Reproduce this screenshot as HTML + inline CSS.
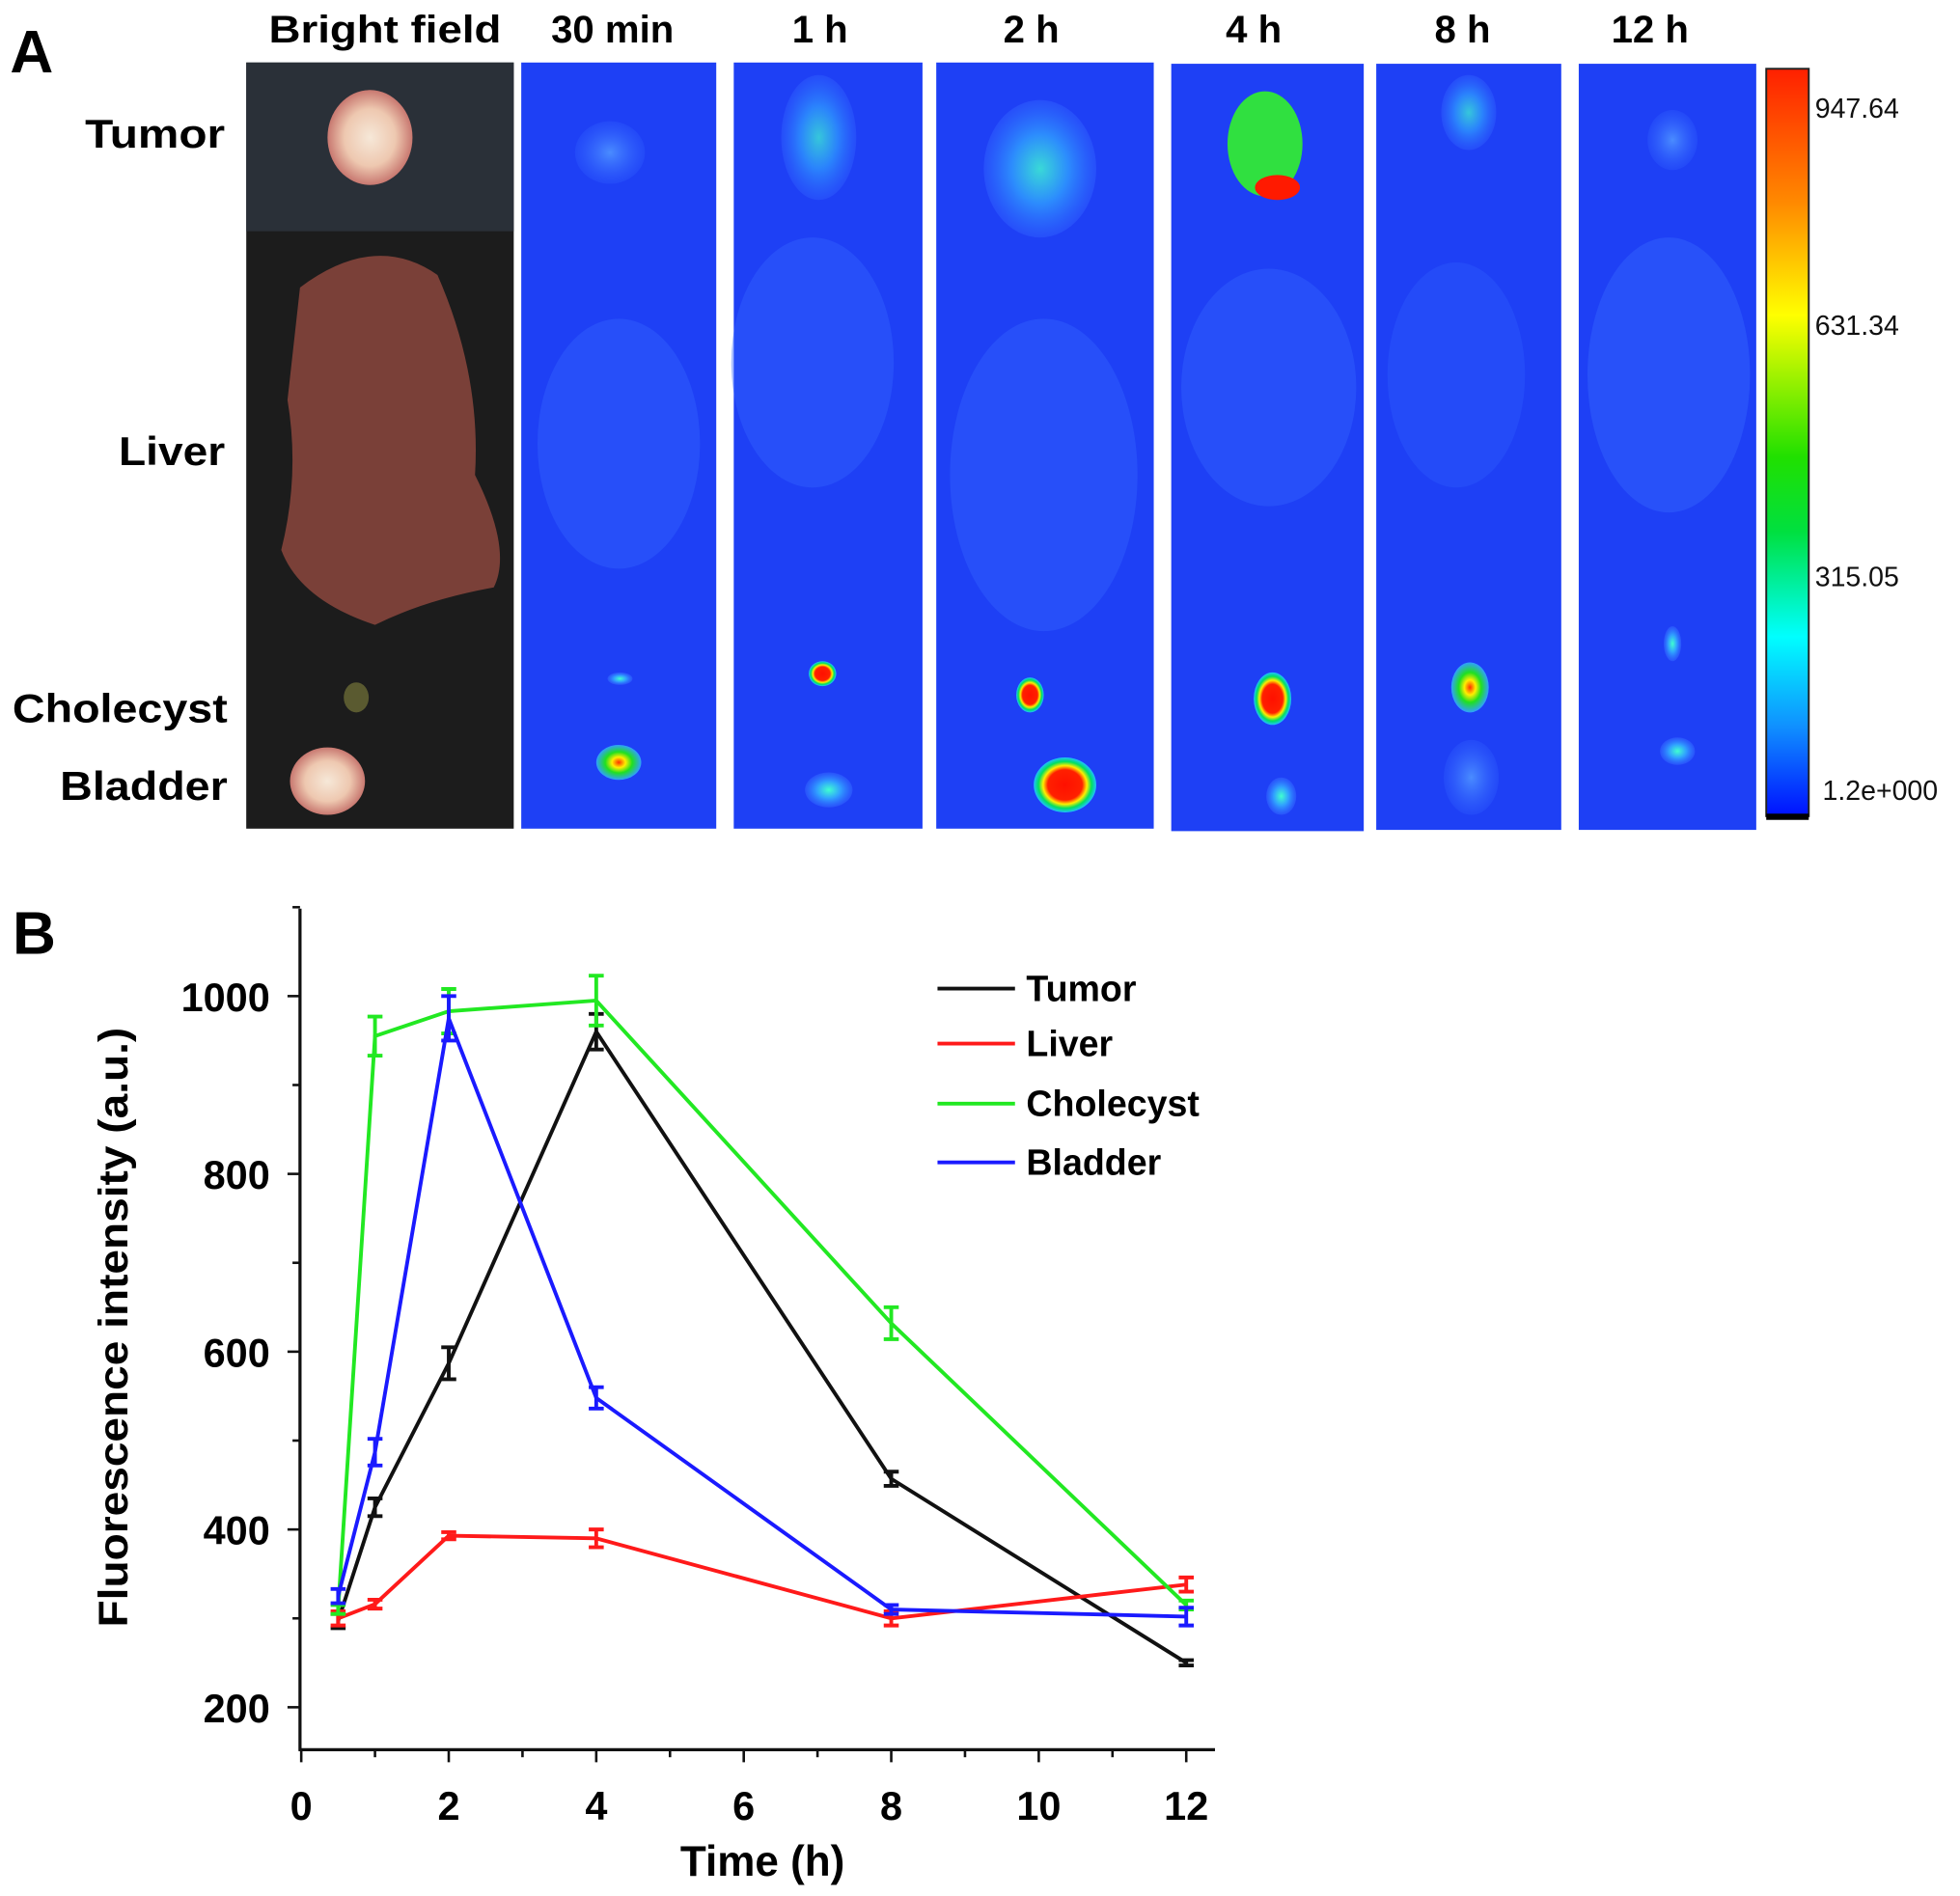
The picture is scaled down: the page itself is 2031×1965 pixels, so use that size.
<!DOCTYPE html>
<html><head><meta charset="utf-8"><style>
html,body{margin:0;padding:0;background:#fff;}
svg{display:block;font-family:"Liberation Sans",Arial,sans-serif;}
</style></head><body>
<svg id="fig" width="2031" height="1965" viewBox="0 0 1568 1517" xmlns="http://www.w3.org/2000/svg">
<defs>
<linearGradient id="cbar" x1="0" y1="0" x2="0" y2="1">
<stop offset="0" stop-color="#ff2000"/><stop offset="0.18" stop-color="#ff8a00"/><stop offset="0.33" stop-color="#ffff00"/><stop offset="0.52" stop-color="#20e000"/><stop offset="0.62" stop-color="#00e040"/><stop offset="0.76" stop-color="#00ffff"/><stop offset="0.88" stop-color="#1090ff"/><stop offset="1" stop-color="#0010ff"/>
</linearGradient>
<radialGradient id="hot"><stop offset="0" stop-color="#ff1000"/><stop offset="0.55" stop-color="#ff2000"/><stop offset="0.7" stop-color="#ffee00"/><stop offset="0.85" stop-color="#00e060"/><stop offset="1" stop-color="#20c0ff"/></radialGradient>
<radialGradient id="warm"><stop offset="0" stop-color="#ff3000"/><stop offset="0.3" stop-color="#ffee00"/><stop offset="0.6" stop-color="#20e020"/><stop offset="1" stop-color="#30a0ff"/></radialGradient>
<radialGradient id="cool"><stop offset="0" stop-color="#40ffd0"/><stop offset="0.5" stop-color="#30a0ff"/><stop offset="1" stop-color="#3060ff" stop-opacity="0.6"/></radialGradient>
<radialGradient id="faint"><stop offset="0" stop-color="#4a8cff"/><stop offset="1" stop-color="#3060ff" stop-opacity="0.3"/></radialGradient>
<radialGradient id="flesh"><stop offset="0" stop-color="#f6e8d8"/><stop offset="0.6" stop-color="#eec8b0"/><stop offset="1" stop-color="#c87870"/></radialGradient>
</defs>

<!-- Panel A -->
<text x="8" y="58" font-size="48" font-weight="bold">A</text>
<g font-size="31" font-weight="bold" text-anchor="middle">
<text x="308" y="34" textLength="186" lengthAdjust="spacingAndGlyphs">Bright field</text><text x="490" y="34">30 min</text><text x="656" y="34">1 h</text><text x="825" y="34">2 h</text><text x="1003" y="34">4 h</text><text x="1170" y="34">8 h</text><text x="1320" y="34">12 h</text>
</g>
<g font-size="32" font-weight="bold">
<text x="68" y="118" textLength="112" lengthAdjust="spacingAndGlyphs">Tumor</text><text x="95" y="372" textLength="85" lengthAdjust="spacingAndGlyphs">Liver</text><text x="10" y="578" textLength="172" lengthAdjust="spacingAndGlyphs">Cholecyst</text><text x="48" y="640" textLength="134" lengthAdjust="spacingAndGlyphs">Bladder</text>
</g>
<g>
<rect x="197" y="50" width="214" height="613" fill="#1c1c1c"/>
<rect x="197" y="50" width="214" height="135" fill="#2a3038"/>
<ellipse cx="296" cy="110" rx="34" ry="38" fill="url(#flesh)"/>
<path d="M240 230 Q300 185 350 220 Q385 300 380 380 Q410 440 395 470 Q340 480 300 500 Q240 480 225 440 Q240 380 230 320 Z" fill="#7a4038"/>
<ellipse cx="285" cy="558" rx="10" ry="12" fill="#5a5a30"/>
<ellipse cx="262" cy="625" rx="30" ry="27" fill="url(#flesh)"/>
</g>
<g>
<rect x="417" y="50" width="156" height="613" fill="#1e40f5"/>
<rect x="587" y="50" width="151" height="613" fill="#1e40f5"/>
<rect x="749" y="50" width="174" height="613" fill="#1e40f5"/>
<rect x="937" y="51" width="154" height="614" fill="#1e40f5"/>
<rect x="1101" y="51" width="148" height="613" fill="#1e40f5"/>
<rect x="1263" y="51" width="142" height="613" fill="#1e40f5"/>
<ellipse cx="488" cy="122" rx="28" ry="25" fill="url(#faint)"/>
<ellipse cx="655" cy="110" rx="30" ry="50" fill="url(#cool)" opacity="0.7"/>
<ellipse cx="832" cy="135" rx="45" ry="55" fill="url(#cool)" opacity="0.8"/>
<ellipse cx="1012" cy="115" rx="30" ry="42" fill="#30e040"/>
<ellipse cx="1022" cy="150" rx="18" ry="10" fill="#ff1a00"/>
<ellipse cx="1175" cy="90" rx="22" ry="30" fill="url(#cool)" opacity="0.7"/>
<ellipse cx="1338" cy="112" rx="20" ry="24" fill="url(#faint)"/>
<ellipse cx="495" cy="355" rx="65" ry="100" fill="#3566ff" opacity="0.4"/>
<ellipse cx="650" cy="290" rx="65" ry="100" fill="#3566ff" opacity="0.4"/>
<ellipse cx="835" cy="380" rx="75" ry="125" fill="#3566ff" opacity="0.4"/>
<ellipse cx="1015" cy="310" rx="70" ry="95" fill="#3566ff" opacity="0.4"/>
<ellipse cx="1165" cy="300" rx="55" ry="90" fill="#3060ff" opacity="0.35"/>
<ellipse cx="1335" cy="300" rx="65" ry="110" fill="#3566ff" opacity="0.45"/>
<ellipse cx="496" cy="543" rx="10" ry="5" fill="url(#cool)"/>
<ellipse cx="658" cy="539" rx="11" ry="10" fill="url(#hot)"/>
<ellipse cx="824" cy="556" rx="11" ry="14" fill="url(#hot)"/>
<ellipse cx="1018" cy="559" rx="15" ry="21" fill="url(#hot)"/>
<ellipse cx="1176" cy="550" rx="15" ry="20" fill="url(#warm)"/>
<ellipse cx="1338" cy="515" rx="7" ry="14" fill="url(#cool)"/>
<ellipse cx="495" cy="610" rx="18" ry="14" fill="url(#warm)"/>
<ellipse cx="663" cy="632" rx="19" ry="14" fill="url(#cool)"/>
<ellipse cx="852" cy="628" rx="25" ry="22" fill="url(#hot)"/>
<ellipse cx="1025" cy="637" rx="12" ry="15" fill="url(#cool)"/>
<ellipse cx="1177" cy="622" rx="22" ry="30" fill="url(#faint)"/>
<ellipse cx="1342" cy="601" rx="14" ry="11" fill="url(#cool)"/>
</g>
<g>
<rect x="1413" y="55" width="34" height="598" fill="url(#cbar)" stroke="#222" stroke-width="1.5"/>
<rect x="1413" y="651" width="34" height="5" fill="#000"/>
<g font-size="22" fill="#111">
<text x="1452" y="94">947.64</text><text x="1452" y="268">631.34</text><text x="1452" y="469">315.05</text><text x="1458" y="640">1.2e+000</text>
</g>
</g>

<!-- Panel B -->
<text x="10" y="763" font-size="48" font-weight="bold">B</text>
<g id="chart"></g>
</svg>
<script>
const times = [0.5, 1, 2, 4, 8, 12];
const seriesNames = ["Tumor", "Liver", "Cholecyst", "Bladder"];
const seriesColors = ["#111111", "#ff1a1a", "#22e822", "#1a1aff"];
const tumorValues = [297, 425, 587, 960, 457, 250];
const tumorErrors = [8, 10, 18, 20, 8, 3];
const liverValues = [300, 316, 393, 390, 300, 338];
const liverErrors = [8, 5, 4, 10, 8, 8];
const cholecystValues = [310, 955, 983, 995, 632, 315];
const cholecystErrors = [5, 22, 25, 28, 18, 5];
const bladderValues = [325, 487, 975, 548, 310, 302];
const bladderErrors = [8, 15, 25, 12, 5, 10];
const xTicks = [0, 2, 4, 6, 8, 10, 12];
const yTicks = [200, 400, 600, 800, 1000];

const NS = "http://www.w3.org/2000/svg";
const g = document.getElementById("chart");
const X0 = 241, XS = 59;
const xPos = t => X0 + XS * t;
const yPos = v => 1366 - (v - 200) * 0.71125;
function mk(tag, attrs, parent) {
  const e = document.createElementNS(NS, tag);
  for (const k in attrs) e.setAttribute(k, attrs[k]);
  (parent || g).appendChild(e);
  return e;
}
const yAxis = mk("line", {x1: 240, y1: 727, x2: 240, y2: 1401, stroke: "#111", "stroke-width": 2.5});


const xAxis = mk("line", {x1: 239, y1: 1400, x2: 972, y2: 1400, stroke: "#111", "stroke-width": 2.5});


for (let v = 200; v <= 1100; v += 100) {
  const major = v % 200 === 0;
  mk("line", {x1: 240 - (major ? 10 : 6), y1: yPos(v), x2: 240, y2: yPos(v), stroke: "#111", "stroke-width": 2});
}
yTicks.forEach(v => {
  const t = mk("text", {x: 216, y: yPos(v) + 12, "font-size": 32, "font-weight": "bold", "text-anchor": "end"});
  t.textContent = v;
  
  
});
for (let t = 0; t <= 12; t += 1) {
  const major = t % 2 === 0;
  mk("line", {x1: xPos(t), y1: 1400, x2: xPos(t), y2: 1400 + (major ? 10 : 6), stroke: "#111", "stroke-width": 2});
}
xTicks.forEach(t => {
  const e = mk("text", {x: xPos(t), y: 1456, "font-size": 32, "font-weight": "bold", "text-anchor": "middle"});
  e.textContent = t;
  
  
});
const xt = mk("text", {x: 610, y: 1501, "font-size": 34, "font-weight": "bold", "text-anchor": "middle"});
xt.textContent = "Time (h)";


const yt = mk("text", {x: 0, y: 0, "font-size": 33, "font-weight": "bold", "text-anchor": "middle", transform: "translate(102,1062) rotate(-90)", textLength: "480", lengthAdjust: "spacingAndGlyphs"});
yt.textContent = "Fluorescence intensity (a.u.)";



const allVals = [tumorValues, liverValues, cholecystValues, bladderValues];
const allErrs = [tumorErrors, liverErrors, cholecystErrors, bladderErrors];
allVals.forEach((vals, s) => {
  const col = seriesColors[s];
  const pts = vals.map((v, i) => xPos(times[i]) + "," + yPos(v)).join(" ");
  const pl = mk("polyline", {points: pts, fill: "none", stroke: col, "stroke-width": 3});
  
  
  vals.forEach((v, i) => {
    const x = xPos(times[i]), e = allErrs[s][i];
    const y1 = yPos(v + e), y2 = yPos(v - e);
    const eb = mk("path", {d: `M${x},${y1}V${y2}M${x-6},${y1}H${x+6}M${x-6},${y2}H${x+6}`, stroke: col, "stroke-width": 3, fill: "none"});
    
    
  });
});
const legY = [791, 835, 883, 930];
seriesNames.forEach((n, s) => {
  const ln = mk("line", {x1: 750, y1: legY[s], x2: 812, y2: legY[s], stroke: seriesColors[s], "stroke-width": 3});
  
  
  const t = mk("text", {x: 821, y: legY[s] + 10, "font-size": 29, "font-weight": "bold"});
  t.textContent = n;
  
  
});
</script>
</body></html>
